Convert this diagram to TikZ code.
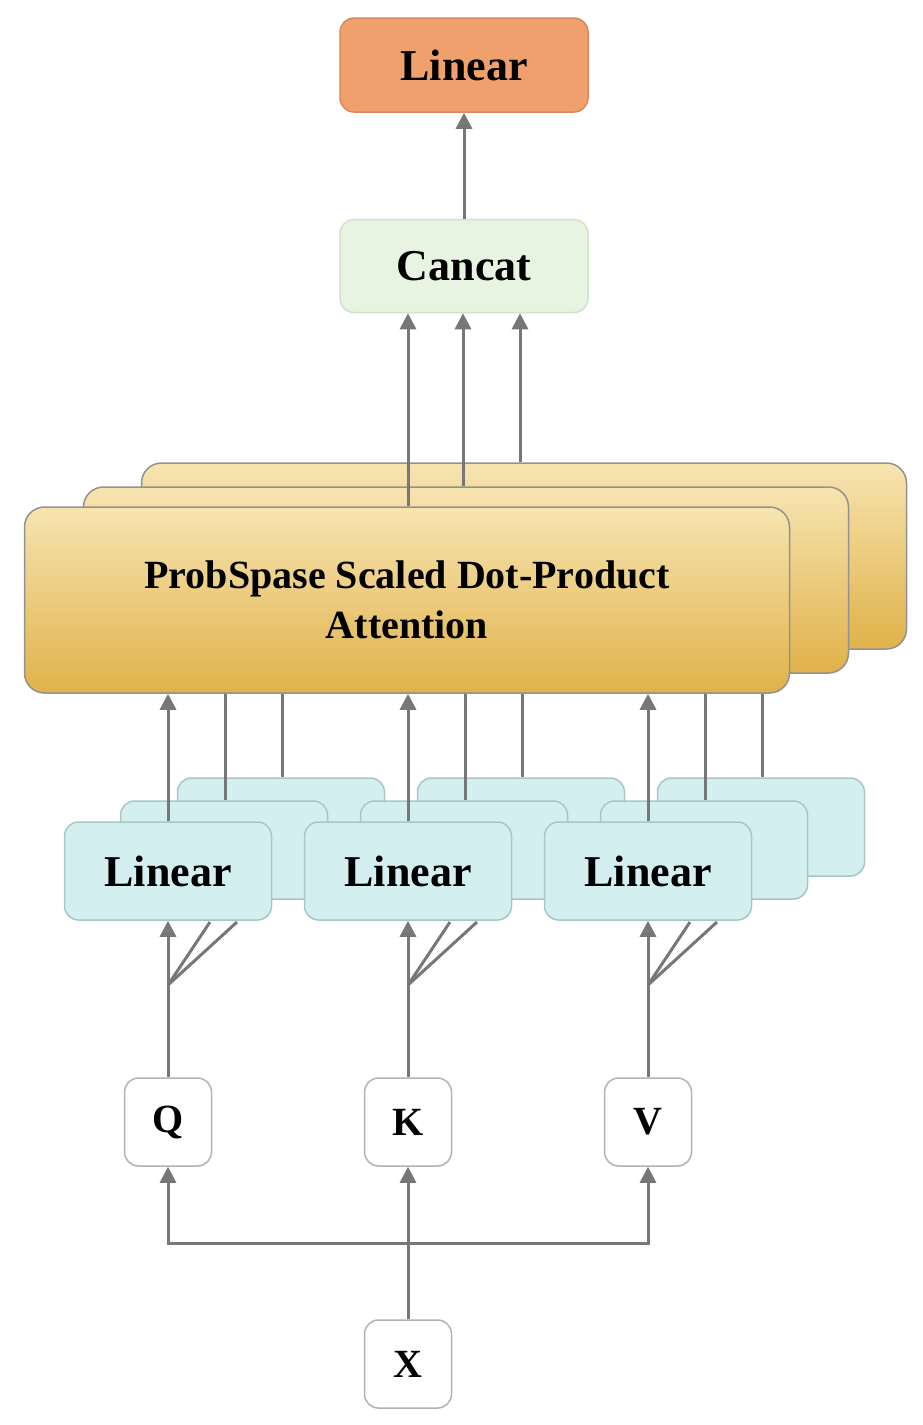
\documentclass[tikz,border=0pt]{standalone}
\usepackage{fontspec}
\setmainfont{Liberation Serif}
\usetikzlibrary{arrows.meta}
\definecolor{ln}{HTML}{777777}
\definecolor{lin}{HTML}{D3EFEF}
\definecolor{linb}{HTML}{A9C6C6}
\definecolor{attt}{HTML}{F7E4B0}
\definecolor{attb}{HTML}{E0B24A}
\definecolor{org}{HTML}{EFA06C}
\definecolor{orgb}{HTML}{D9895A}
\definecolor{cc}{HTML}{E8F4E2}
\definecolor{ccb}{HTML}{D0E2C8}
\begin{document}
\begin{tikzpicture}[x=1pt,y=-1pt,
 box/.style={draw,rounded corners=14pt,line width=1.5pt,inner sep=0pt},
 lbox/.style={box,fill=lin,draw=linb,minimum width=207pt,minimum height=98pt},
 att/.style={box,rounded corners=20pt,draw=ln!80,top color=attt,bottom color=attb,minimum width=765pt,minimum height=186pt},
 wbox/.style={box,draw=gray!60,fill=white,minimum width=87pt,minimum height=88pt,font=\fontsize{40}{40}\selectfont\bfseries},
 con/.style={draw=ln,line width=3pt},
 arr/.style={con,-{Triangle[length=16pt,width=16pt]}},
 tx/.style={font=\fontsize{44}{44}\selectfont\bfseries}]
\useasboundingbox (0,0) rectangle (923,1425);
% top
\node[box,fill=org,draw=orgb,minimum width=248pt,minimum height=94pt,tx] (out) at (464,65) {Linear};
\node[box,fill=cc,draw=ccb,minimum width=248pt,minimum height=93pt,tx] (cc) at (464,266) {Cancat};
\draw[arr] (cc) -- (out);
% attention stack
\node[att] (a3) at (524,556) {};
\node[att] (a2) at (466,580) {};
\node[att,align=center,font=\fontsize{40}{50}\selectfont\bfseries] (a1) at (407,600) {ProbSpase Scaled Dot-Product\\Attention};
\draw[arr] (a1.north -| 408,0) -- (cc.south -| 408,0);
\draw[arr] (a2.north -| 463,0) -- (cc.south -| 463,0);
\draw[arr] (a3.north -| 520,0) -- (cc.south -| 520,0);
% inputs
\node[wbox] (X) at (408,1364) {X};
\foreach \n/\l/\c in {q/Q/168,k/K/408,v/V/648}{
 \node[lbox] (\n3) at (\c+113,827) {};
 \node[lbox] (\n2) at (\c+56,850) {};
 \node[lbox,tx] (\n1) at (\c,871) {Linear};
 \node[wbox] (\n) at (\c,1122) {\l};
 \coordinate (\n f) at (\c,985);
 \draw[con] (\n) -- (\n f);
 \draw[arr] (\n f) -- (\n1.south -| \c,0);
 \draw[con] (\n f) -- (\c+42,922);
 \draw[con] (\n f) -- (\c+69,922);
 \draw[arr] (\n1.north -| \c,0) -- (a1.south -| \c,0);
 \draw[con] (\n2.north -| \c+57,0) -- (a1.south -| \c+57,0);
 \draw[con] (\n3.north -| \c+114,0) -- (a1.south -| \c+114,0);
}
\coordinate (j) at (408,1243);
\draw[con] (X) -- (j);
\draw[arr] (j) -- (k);
\draw[arr] (j) -| (q);
\draw[arr] (j) -| (v);
\end{tikzpicture}
\end{document}
